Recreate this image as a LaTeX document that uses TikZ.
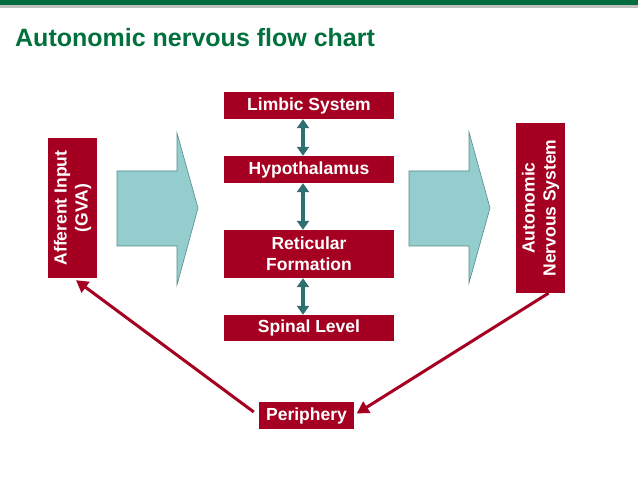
\documentclass[tikz,border=0pt]{standalone}
\usepackage{fontspec}
\setmainfont{Liberation Sans}
\usetikzlibrary{positioning,calc,arrows.meta}

\definecolor{barGreen}{RGB}{0,107,60}
\definecolor{titleGreen}{RGB}{0,112,60}
\definecolor{boxRed}{RGB}{165,0,33}
\definecolor{flowTeal}{RGB}{148,205,205}
\definecolor{flowEdge}{RGB}{84,140,140}
\definecolor{linkTeal}{RGB}{47,111,111}

\begin{document}
\begin{tikzpicture}[
    x=1pt, y=-1pt,
    box_style/.style={fill=boxRed, text=white, inner sep=0pt, align=center,
        font=\bfseries\fontsize{17.5}{21}\selectfont},
    big_arr/.style={fill=flowTeal, draw=flowEdge, line width=0.6pt},
    link/.style={{Triangle[width=12pt,length=9pt]}-{Triangle[width=12pt,length=9pt]}, line width=3.5pt, linkTeal},
    loop_arr/.style={-{Triangle[width=13pt,length=12pt]}, line width=3pt, boxRed}
]
\useasboundingbox[fill=white] (0,0) rectangle (638,478);

% ===== HEADER =====
\fill[black!25] (0,5) rectangle (638,8);
\fill[barGreen] (0,0) rectangle (638,5);
\node[anchor=base west, inner sep=0pt, text=titleGreen,
      font=\bfseries\fontsize{25}{28}\selectfont] (title) at (15,47) {Autonomic nervous flow chart};

% ===== SIDE BOXES =====
\node[box_style, rotate=90, minimum width=140pt, minimum height=49pt] (aff) at (72.5,208) {Afferent Input\\(GVA)};
\node[box_style, rotate=90, minimum width=170pt, minimum height=49pt] (ans) at (540.5,208) {Autonomic\\Nervous System};

% Big teal arrows
\draw[big_arr] (117,171) -- (177,171) -- (177,133) -- (198,208) -- (177,285) -- (177,246) -- (117,246) -- cycle;
\draw[big_arr] (409,171) -- (469,171) -- (469,132) -- (490,208) -- (469,283) -- (469,246) -- (409,246) -- cycle;

% ===== CENTRE COLUMN =====
\node[box_style, minimum width=170pt, minimum height=27pt] (limbic) at (309,105.5) {Limbic System};
\node[box_style, minimum width=170pt, minimum height=27pt] (hypo) at (309,169.5) {Hypothalamus};
\node[box_style, minimum width=170pt, minimum height=48pt] (retic) at (309,254) {Reticular\\Formation};
\node[box_style, minimum width=170pt, minimum height=26pt] (spinal) at (309,328) {Spinal Level};

\draw[link] ([xshift=-6pt]limbic.south) -- ([xshift=-6pt]hypo.north);
\draw[link] ([xshift=-6pt]hypo.south) -- ([xshift=-6pt]retic.north);
\draw[link] ([xshift=-6pt]retic.south) -- ([xshift=-6pt]spinal.north);

% ===== PERIPHERY LOOP =====
\node[box_style, minimum width=95pt, minimum height=27pt] (peri) at (306.5,415.5) {Periphery};

\draw[loop_arr] ([xshift=-5pt,yshift=3.5pt]peri.west) -- ([xshift=3.5pt,yshift=-2pt]aff.west);
\draw[loop_arr] ([xshift=8pt]ans.west) -- ([xshift=2.5pt,yshift=2pt]peri.east);

\end{tikzpicture}
\end{document}
